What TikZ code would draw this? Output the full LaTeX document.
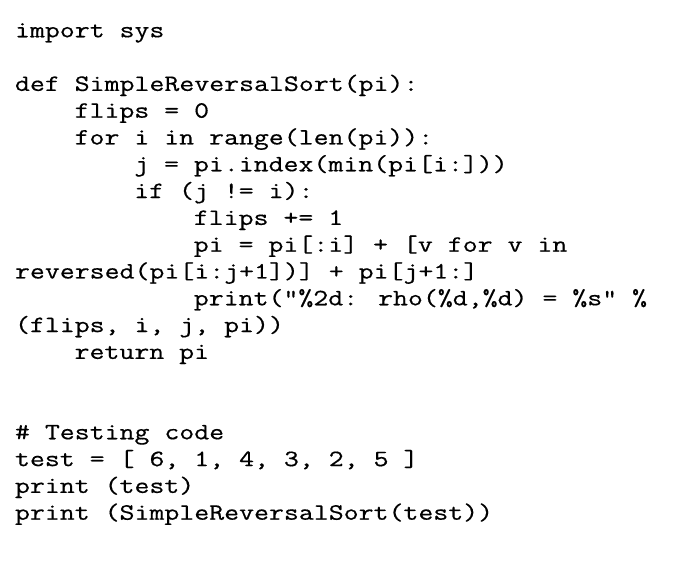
\documentclass[tikz,border=0pt]{standalone}
\usepackage{fontspec}
\newfontfamily\codefont{Latin Modern Mono}[FakeStretch=1.24,FakeBold=0.5]
\begin{document}
\begin{tikzpicture}[x=1pt,y=1pt,
  codeline/.style={anchor=base west,inner sep=0pt,outer sep=0pt,
    font=\codefont\fontsize{23.4}{26.8}\selectfont,text=black}]
\useasboundingbox (0,0) rectangle (700,578);
\fill[white] (0,0) rectangle (700,578);
\def\cw{14.9}
\def\lx{15}
\def\ly#1{578-37.3-#1*26.8}
\node[codeline] (l0)  at (\lx, {\ly{0}}) {import sys};
\node[codeline] (l2)  at (\lx, {\ly{2}}) {def SimpleReversalSort(pi):};
\node[codeline] (l3)  at ({\lx+4*\cw}, {\ly{3}}) {flips = 0};
\node[codeline] (l4)  at ({\lx+4*\cw}, {\ly{4}}) {for i in range(len(pi)):};
\node[codeline] (l5)  at ({\lx+8*\cw}, {\ly{5}}) {j = pi.index(min(pi[i:]))};
\node[codeline] (l6)  at ({\lx+8*\cw}, {\ly{6}}) {if (j != i):};
\node[codeline] (l7)  at ({\lx+12*\cw}, {\ly{7}}) {flips += 1};
\node[codeline] (l8)  at ({\lx+12*\cw}, {\ly{8}}) {pi = pi[:i] + [v for v in};
\node[codeline] (l9)  at (\lx, {\ly{9}}) {reversed(pi[i:j+1])] + pi[j+1:]};
\node[codeline] (l10) at ({\lx+12*\cw}, {\ly{10}}) {print("\%2d: rho(\%d,\%d) = \%s" \%};
\node[codeline] (l11) at (\lx, {\ly{11}}) {(flips, i, j, pi))};
\node[codeline] (l12) at ({\lx+4*\cw}, {\ly{12}}) {return pi};
\node[codeline] (l15) at (\lx, {\ly{15}}) {\# Testing code};
\node[codeline] (l16) at (\lx, {\ly{16}}) {test = [ 6, 1, 4, 3, 2, 5 ]};
\node[codeline] (l17) at (\lx, {\ly{17}}) {print (test)};
\node[codeline] (l18) at (\lx, {\ly{18}}) {print (SimpleReversalSort(test))};
\end{tikzpicture}
\end{document}
